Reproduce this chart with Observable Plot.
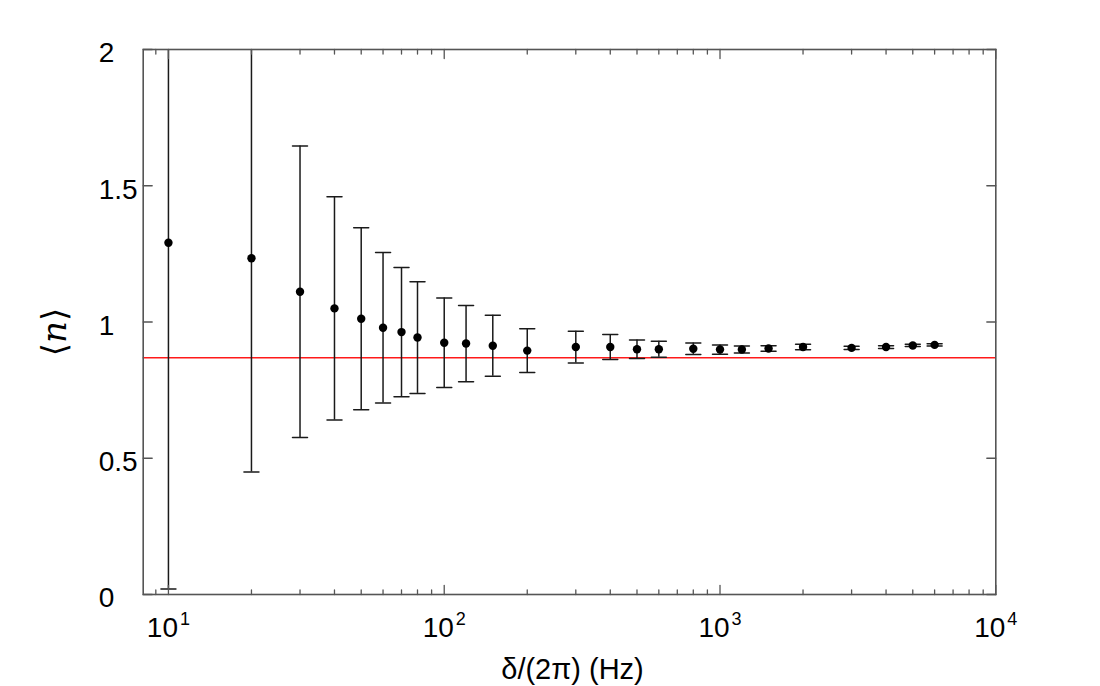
<!DOCTYPE html>
<html><head><meta charset="utf-8">
<script src="https://cdn.jsdelivr.net/npm/d3@7"></script>
<script src="https://cdn.jsdelivr.net/npm/@observablehq/plot@0.6"></script>
<style>body{margin:0;background:#fff}</style>
</head><body><div id="chart"></div>
<script>
// Data
const freq = [10,20,30,40,50,60,70,80,100,120,150,200,300,400,500,600,800,1000,1200,1500,2000,3000,4000,5000,6000];
const mean = [1.291,1.234,1.111,1.050,1.012,0.979,0.963,0.943,0.924,0.921,0.913,0.895,0.908,0.908,0.900,0.900,0.902,0.899,0.899,0.903,0.908,0.905,0.908,0.914,0.916];
const err  = [1.271,0.784,0.535,0.410,0.334,0.276,0.237,0.205,0.164,0.140,0.112,0.080,0.058,0.046,0.034,0.029,0.021,0.017,0.013,0.010,0.010,0.006,0.005,0.004,0.004];
const refLevel = 0.869;
const xMajorTicks = [10,100,1000,10000];
const xMinorTicks = [9,20,30,40,50,60,70,80,90,200,300,400,500,600,700,800,900,2000,3000,4000,5000,6000,7000,8000,9000];
const yTicks = [0,0.5,1,1.5,2];
const xLabel = "δ/(2π) (Hz)";
const yLabel = "⟨n⟩";

const rows = freq.map((f,i)=>({f, m: mean[i], lo: mean[i]-err[i], hi: mean[i]+err[i]}));
const seg = {draw(ctx,l){ctx.moveTo(0,0);ctx.lineTo(0,-l);}};
const axisColor = "#555";
const font = "Liberation Sans, Arial, sans-serif";

function ticks(data, dim, anchor, rotate, len) {
  const o = {frameAnchor: anchor, rotate, length: len, anchor: "start", shape: seg, stroke: axisColor, strokeWidth: 1.3};
  o[dim] = d => d;
  return Plot.vector(data, o);
}

const plot = Plot.plot({
  width: 1100, height: 686,
  marginLeft: 142.7, marginRight: 104.7, marginTop: 49, marginBottom: 92,
  x: {type: "log", domain: [8.1, 10000], axis: null},
  y: {domain: [0, 2], axis: null},
  style: {fontFamily: font, background: "#fff"},
  marks: [
    Plot.ruleY([refLevel], {stroke: "#ff1a1a", strokeWidth: 1.5}),
    Plot.ruleX(rows, {x: "f", y1: "lo", y2: "hi", stroke: "#1a1a1a", strokeWidth: 1.5, clip: true}),
    Plot.vector(rows, {x: "f", y: "lo", length: 15, rotate: 90, anchor: "middle", shape: seg, stroke: "#1a1a1a", strokeWidth: 1.5, clip: true}),
    Plot.vector(rows, {x: "f", y: "hi", length: 15, rotate: 90, anchor: "middle", shape: seg, stroke: "#1a1a1a", strokeWidth: 1.5, clip: true}),
    Plot.dot(rows, {x: "f", y: "m", r: 4.2, fill: "#000", stroke: null}),
    ticks(xMajorTicks, "x", "bottom", 0, 9),
    ticks(xMinorTicks, "x", "bottom", 0, 4.5),
    ticks(xMajorTicks, "x", "top", 180, 9),
    ticks(xMinorTicks, "x", "top", 180, 4.5),
    ticks(yTicks, "y", "left", 90, 9),
    ticks(yTicks, "y", "right", -90, 9),
    Plot.frame({stroke: axisColor, strokeWidth: 1.6}),
    Plot.text(yTicks, {y: d => d, text: d => String(d), frameAnchor: "left", textAnchor: "start", lineAnchor: "middle", dx: -44.5, dy: 4, fontSize: 28, fill: "#000"}),
    Plot.text(xMajorTicks, {x: d => d, text: d => "10^" + Math.round(Math.log10(d)), frameAnchor: "bottom", textAnchor: "middle", lineAnchor: "middle", dy: 34, fontSize: 28, fill: "#000"}),
    Plot.text([xLabel], {text: d => d, frameAnchor: "bottom", textAnchor: "middle", lineAnchor: "middle", dx: 3, dy: 75, fontSize: 29, fill: "#000"}),
    Plot.text([yLabel], {text: d => d, frameAnchor: "left", textAnchor: "middle", lineAnchor: "middle", rotate: -90, dx: -88, dy: 10, fontSize: 34, fill: "#000"})
  ]
});
document.getElementById("chart").appendChild(plot);

d3.select(plot).selectAll("text").each(function() {
  const s = this.textContent;
  const t = d3.select(this);
  const m = /^10\^(\d)$/.exec(s);
  if (m) {
    // superscript exponents on x tick labels
    t.text("10");
    t.append("tspan").attr("dx", "2").attr("dy", "-12").attr("font-size", 18).text(m[1]);
  } else if (s === yLabel) {
    // math-style y label
    t.text("");
    t.append("tspan").attr("font-family", "DejaVu Serif").attr("font-weight", 200).text("⟨");
    t.append("tspan").attr("font-family", "DejaVu Serif").attr("font-style", "italic").text("n");
    t.append("tspan").attr("font-family", "DejaVu Serif").attr("font-weight", 200).text("⟩");
  }
});
</script>
</body></html>
